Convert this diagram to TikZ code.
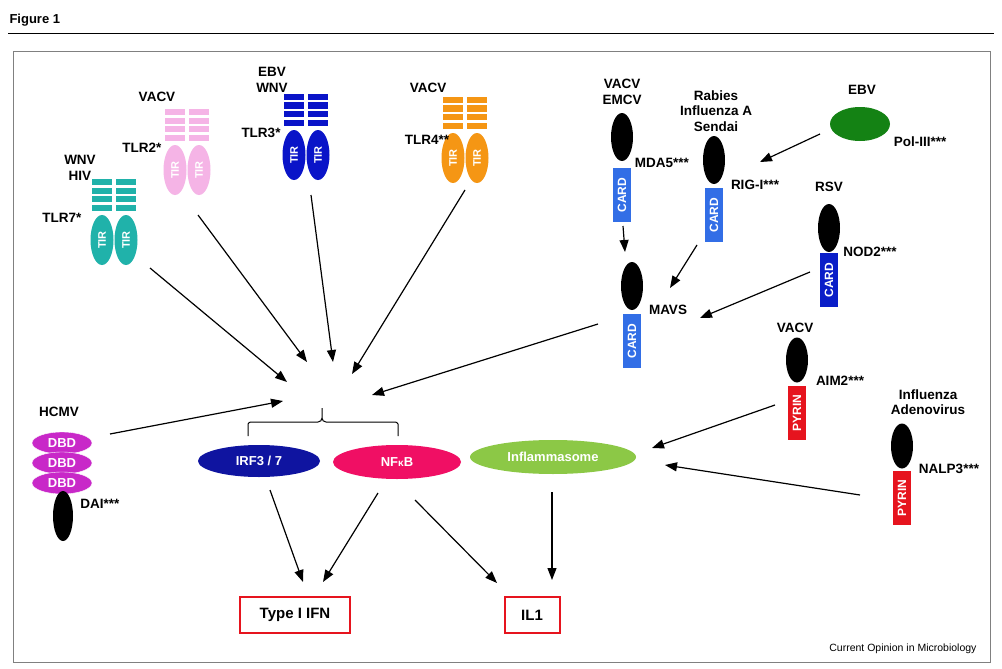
\documentclass[tikz,border=0pt]{standalone}
\usepackage{fontspec}
\setmainfont{Liberation Sans}
\usetikzlibrary{arrows.meta,shapes.geometric}
\definecolor{teal1}{RGB}{32,178,170}
\definecolor{pink1}{RGB}{245,180,230}
\definecolor{blue1}{RGB}{10,20,200}
\definecolor{orange1}{RGB}{245,150,20}
\definecolor{card}{RGB}{50,110,230}
\definecolor{card2}{RGB}{10,30,200}
\definecolor{pyr}{RGB}{230,20,30}
\definecolor{grn}{RGB}{20,130,20}
\definecolor{dbd}{RGB}{200,40,200}
\definecolor{irf}{RGB}{15,20,160}
\definecolor{nfk}{RGB}{240,15,100}
\definecolor{infl}{RGB}{140,200,70}
\newcommand\mytlr[4]{%
 \foreach \dx in {-12,12}{%
  \foreach \k in {0,1,2,3}{\fill[#3] (#1+\dx-10,#2-61+\k*8.5) rectangle (#1+\dx+10,#2-55+\k*8.5);}
  \node[ellipse,fill=#3,minimum width=23pt,minimum height=50pt,inner sep=0pt] at (#1+\dx,#2) {};
  \node[rotate=90,text=white,font=\bfseries\fontsize{11}{11}\selectfont] at (#1+\dx,#2) {TIR};}}
\tikzset{
 lab/.style={font=\bfseries\fontsize{13.5}{15.5}\selectfont,align=center},
 arr/.style={line width=1.2pt,-{Triangle[length=12pt,width=9pt]}},
 blk/.style={ellipse,fill=black,minimum width=22pt,minimum height=48pt,inner sep=0pt},
 dom/.style={draw=white,fill=#1,minimum width=19pt,minimum height=55pt,inner sep=0pt},
 domt/.style={rotate=90,text=white,font=\bfseries\fontsize{12}{12}\selectfont},
 oval/.style={ellipse,fill=#1,text=white,inner sep=0pt,font=\bfseries\fontsize{13}{13}\selectfont},
 outbox/.style={draw=pyr,line width=2pt,font=\bfseries\fontsize{15}{15}\selectfont,inner sep=0pt}
}
\begin{document}
\begin{tikzpicture}[x=1pt,y=-1pt]
\useasboundingbox (0,0) rectangle (1002,669);
\fill[white] (0,0) rectangle (1002,669);
\node[anchor=west,font=\bfseries\fontsize{13}{13}\selectfont] (fig) at (6,20) {Figure 1};
\draw[line width=0.8pt] (8,33) -- (994,33);
\draw[gray,line width=1pt] (13,52) rectangle (990,662);
% TLRs
\mytlr{114}{240}{teal1}{t7}
\node[lab] (v7) at (80,168) {WNV\\HIV};
\node[lab] (l7) at (62,218) {TLR7*};
\mytlr{187}{170}{pink1}{t2}
\node[lab] (v2) at (157,97) {VACV};
\node[lab] (l2) at (142,148) {TLR2*};
\mytlr{306}{155}{blue1}{t3}
\node[lab] (v3) at (272,80) {EBV\\WNV};
\node[lab] (l3) at (261,133) {TLR3*};
\mytlr{465}{158}{orange1}{t4}
\node[lab] (v4) at (428,88) {VACV};
\node[lab] (l4) at (427,140) {TLR4**};
\coordinate (a7) at (150,268); \coordinate (b7) at (287,382);
\coordinate (a2) at (198,215); \coordinate (b2) at (307,362);
\coordinate (a3) at (311,195); \coordinate (b3) at (333,362);
\coordinate (a4) at (465,190); \coordinate (b4) at (352,374);
\draw[arr] (a7) -- (b7); \draw[arr] (a2) -- (b2); \draw[arr] (a3) -- (b3); \draw[arr] (a4) -- (b4);
% MDA5
\node[lab] (vm) at (622,92) {VACV\\EMCV};
\node[blk] (mda) at (622,137) {};
\node[dom=card] (mdac) at (622,195) {}; \node[domt] at (mdac) {CARD};
\node[lab] at (662,163) {MDA5***};
% RIG-I
\node[lab] (vr) at (716,111) {Rabies\\Influenza A\\Sendai};
\node[blk] (rig) at (714,160) {};
\node[dom=card] (rigc) at (714,215) {}; \node[domt] at (rigc) {CARD};
\node[lab] at (755,185) {RIG-I***};
% Pol-III
\node[lab] at (862,90) {EBV};
\node[ellipse,fill=grn,minimum width=60pt,minimum height=34pt] (pol) at (860,124) {};
\node[lab] at (920,142) {Pol-III***};
\coordinate (pa) at (820,134); \coordinate (pb) at (760,162);
\draw[arr] (pa) -- (pb);
% NOD2
\node[lab] at (829,187) {RSV};
\node[blk] (nod) at (829,228) {};
\node[dom=card2] (nodc) at (829,280) {}; \node[domt] at (nodc) {CARD};
\node[lab] at (870,252) {NOD2***};
% MAVS
\node[blk] (mav) at (632,286) {};
\node[dom=card] (mavc) at (632,341) {}; \node[domt] at (mavc) {CARD};
\node[lab] at (668,310) {MAVS};
\coordinate (m1) at (623,226); \coordinate (m2) at (625,252);
\draw[arr] (m1) -- (m2);
\draw[arr] (697,245) coordinate (r1) -- (670,288) coordinate (r2);
\draw[arr] (810,272) coordinate (n1) -- (700,318) coordinate (n2);
\draw[arr] (598,324) coordinate (mv1) -- (372,395) coordinate (mv2);
% AIM2
\node[lab] at (795,328) {VACV};
\node[blk,minimum height=45pt] (aim) at (797,360) {};
\node[dom=pyr] (aimp) at (797,413) {}; \node[domt] at (aimp) {PYRIN};
\node[lab] at (840,381) {AIM2***};
% NALP3
\node[lab] at (928,402) {Influenza\\Adenovirus};
\node[blk,minimum height=45pt] (nal) at (902,446) {};
\node[dom=pyr] (nalp) at (902,498) {}; \node[domt] at (nalp) {PYRIN};
\node[lab] at (949,469) {NALP3***};
% DAI
\node[lab] at (59,412) {HCMV};
\foreach \yy/\nn in {443/d1,463/d2,483/d3}{
 \node[oval=dbd,draw=white,minimum width=60pt,minimum height=22pt] (\nn) at (62,\yy) {DBD};}
\node[blk,minimum width=20pt,minimum height=50pt] (dai) at (63,516) {};
\node[lab] at (100,504) {DAI***};
\draw[arr] (110,434) coordinate (h1) -- (283,401) coordinate (h2);
% bracket
\draw[line width=1pt] (248,436) -- (248,424) to[out=90,in=180] (252,422) -- (318,422) to[out=0,in=-90] (322,418) -- (322,408)
 (322,418) to[out=-90,in=180] (326,422) -- (394,422) to[out=0,in=90] (398,424) -- (398,436);
% transcription
\node[oval=irf,minimum width=122pt,minimum height=32pt] (irf) at (259,461) {IRF3 / 7};
\node[oval=nfk,minimum width=128pt,minimum height=34pt] (nfk) at (397,462) {NF{\fontsize{10}{10}\selectfont κ}B};
\node[oval=infl,minimum width=166pt,minimum height=34pt] (inf) at (553,457) {Inflammasome};
\draw[arr] (775,405) coordinate (ai1) -- (652,448) coordinate (ai2);
\draw[arr] (860,495) coordinate (na1) -- (665,465) coordinate (na2);
% outputs
\node[outbox,minimum width=110pt,minimum height=36pt] (ifn) at (295,615) {Type I IFN};
\node[outbox,minimum width=55pt,minimum height=36pt] (il1) at (532,615) {IL1};
\draw[arr] (270,490) coordinate (o1) -- (303,582);
\draw[arr] (378,493) coordinate (o2) -- (323,582);
\draw[arr] (415,500) coordinate (o3) -- (497,583);
\draw[arr] (552,492) coordinate (o4) -- (552,580);
\node[anchor=east,font=\fontsize{10.5}{10.5}\selectfont] (src) at (980,649) {Current Opinion in Microbiology};
\end{tikzpicture}
\end{document}
